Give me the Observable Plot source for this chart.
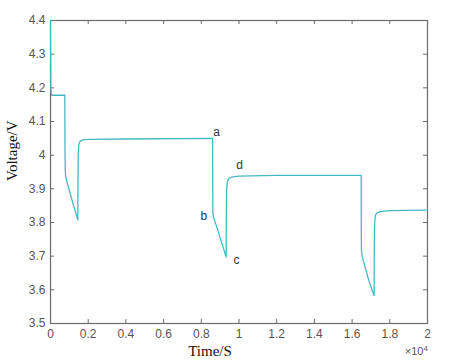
<!DOCTYPE html>
<html>
<head>
<meta charset="utf-8">
<script src="https://cdn.jsdelivr.net/npm/d3@7"></script>
<script src="https://cdn.jsdelivr.net/npm/@observablehq/plot@0.6"></script>
<style>
  html, body { margin: 0; padding: 0; background: #fff; }
</style>
</head>
<body>
<div id="chart"></div>
<script>
const time = [0, 20, 40, 60, 760, 765, 780, 800, 850, 1000, 1200, 1450, 1455, 1470, 1500, 1550, 1650, 1800, 2200, 4000, 8600,
  8605, 8615, 8650, 8800, 9000, 9320, 9325, 9340, 9380, 9450, 9600, 10000, 12000, 16480,
  16485, 16495, 16530, 16700, 16900, 17170, 17175, 17190, 17230, 17300, 17500, 18000, 20000];
const voltage = [4.4, 4.2, 4.185, 4.178, 4.178, 4.05, 3.96, 3.94, 3.925, 3.895, 3.855, 3.808, 3.9, 4.0, 4.03, 4.04, 4.044, 4.046, 4.047, 4.048, 4.05,
  3.9, 3.83, 3.815, 3.79, 3.755, 3.697, 3.8, 3.89, 3.92, 3.93, 3.935, 3.938, 3.94, 3.94,
  3.8, 3.72, 3.7, 3.665, 3.625, 3.583, 3.7, 3.79, 3.82, 3.828, 3.833, 3.835, 3.837];
const pointNames = ["a", "b", "c", "d"];
const pointTime = [8806, 8133, 9867, 10027];
const pointVoltage = [4.067, 3.818, 3.687, 3.971];
const xTicks = [0, 2000, 4000, 6000, 8000, 10000, 12000, 14000, 16000, 18000, 20000];
const xTickLabels = ["0", "0.2", "0.4", "0.6", "0.8", "1", "1.2", "1.4", "1.6", "1.8", "2"];
const yTicks = [3.5, 3.6, 3.7, 3.8, 3.9, 4.0, 4.1, 4.2, 4.3, 4.4];
const yTickLabels = ["3.5", "3.6", "3.7", "3.8", "3.9", "4", "4.1", "4.2", "4.3", "4.4"];

const series = time.map((t, i) => ({t, v: voltage[i]}));
const points = pointNames.map((n, i) => ({n, t: pointTime[i], v: pointVoltage[i]}));

const W = 474, H = 364;
const mL = 50, mR = 47, mT = 20, mB = 41;
const fw = W - mL - mR, fh = H - mT - mB;
const tickLen = 4;
const axisColor = "#6b6b6b";
const xFmt = (d) => xTickLabels[xTicks.indexOf(d)];
const yFmt = (d) => yTickLabels[yTicks.findIndex(y => Math.abs(y - d) < 1e-9)];

const chart = Plot.plot({
  width: W,
  height: H,
  marginLeft: mL,
  marginRight: mR,
  marginTop: mT,
  marginBottom: mB,
  style: {fontFamily: "'Liberation Sans', Arial, sans-serif", fontSize: "12px", background: "#fff"},
  x: {domain: [0, 20000], label: null},
  y: {domain: [3.5, 4.4], label: null},
  marks: [
    Plot.axisX({ticks: xTicks, tickFormat: xFmt, tickSize: 0, tickPadding: 6, label: null, fill: "#555", fontSize: 12}),
    Plot.axisY({ticks: yTicks, tickFormat: yFmt, tickSize: 0, tickPadding: 5, label: null, fill: "#555", fontSize: 12}),
    Plot.frame({stroke: axisColor, strokeWidth: 1.2}),
    // inward ticks: bottom and top
    Plot.tickX(xTicks, {x: d => d, insetTop: fh - tickLen, stroke: axisColor}),
    Plot.tickX(xTicks, {x: d => d, insetBottom: fh - tickLen, stroke: axisColor}),
    // inward ticks: left and right
    Plot.tickY(yTicks, {y: d => d, insetRight: fw - tickLen, stroke: axisColor}),
    Plot.tickY(yTicks, {y: d => d, insetLeft: fw - tickLen, stroke: axisColor}),
    Plot.line(series, {x: "t", y: "v", stroke: "#45b9c2", strokeWidth: 1.3}),
    Plot.text(points, {x: "t", y: "v", text: "n", fill: "#333", fontSize: 12}),
    Plot.text(["×10"], {frameAnchor: "bottom-right", dx: -4, dy: 31, textAnchor: "end", fill: "#555", fontSize: 11}),
    Plot.text(["4"], {frameAnchor: "bottom-right", dx: -4, dy: 27, textAnchor: "start", fill: "#555", fontSize: 8}),
    Plot.text(["Time/S"], {frameAnchor: "bottom", dx: -29, dy: 32, fill: "#111", fontSize: 15, fontFamily: "'Liberation Serif', 'Times New Roman', serif"}),
    Plot.text(["Voltage/V"], {frameAnchor: "left", dx: -38, dy: 9, rotate: -90, fill: "#111", fontSize: 15, fontFamily: "'Liberation Serif', 'Times New Roman', serif"})
  ]
});
document.getElementById("chart").appendChild(chart);
</script>
</body>
</html>
